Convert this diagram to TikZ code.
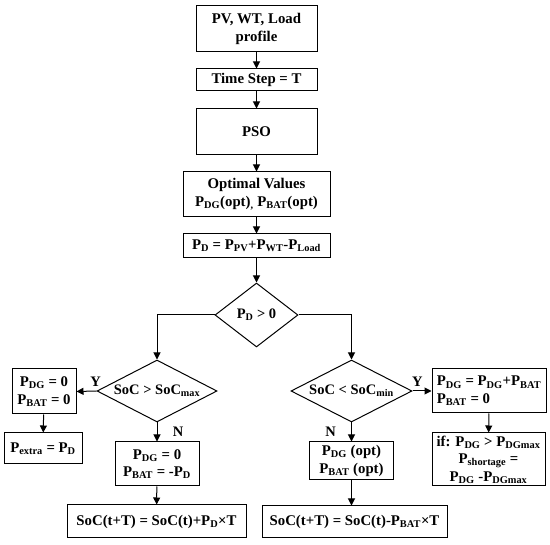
\documentclass[tikz,border=0pt]{standalone}
\usepackage{fontspec}
\setmainfont{Liberation Serif}
\usepackage{tikz}
\usetikzlibrary{arrows.meta,shapes.geometric}
\newcommand{\Pw}[1]{P\textsubscript{#1}}
\tikzset{
  blk/.style={draw, line width=1pt, align=center, inner sep=1pt,
    font=\bfseries\fontsize{14.8}{17.5}\selectfont},
  dec/.style={diamond, draw, line width=1pt, aspect=1.9, inner sep=0pt,
    font=\bfseries\fontsize{14.5}{17}\selectfont},
  flow/.style={-{Triangle[length=7pt,width=7pt]}, line width=1pt},
  yn/.style={font=\bfseries\fontsize{14.5}{14.5}\selectfont, inner sep=1pt}
}

\begin{document}
\begin{tikzpicture}[x=1pt, y=-1pt]
  \useasboundingbox (0,0) rectangle (550,545);
  % main column
  \node[blk, minimum width=121, minimum height=46] (prof) at (256.5,29) {PV, WT, Load\\profile};
  \node[blk, minimum width=121, minimum height=22] (tstep) at (256.5,80) {Time Step = T};
  \node[blk, minimum width=121, minimum height=46] (pso) at (256.5,132) {PSO};
  \node[blk, minimum width=147, minimum height=45] (optv) at (256.5,194.5)
    {Optimal Values\\\Pw{DG}(opt)\textsubscript{,} \Pw{BAT}(opt)};
  \node[blk, minimum width=147, minimum height=24] (pd) at (256.5,246)
    {\Pw{D} = \Pw{PV}+\Pw{WT}-\Pw{Load}};
  \node[dec, minimum width=83, minimum height=64] (dpd) at (256.5,315) {\Pw{D} > 0};
  % left branch
  \node[dec, minimum width=120, minimum height=62] (dmax) at (157,391) {SoC > SoC\textsubscript{max}};
  \node[blk, minimum width=64, minimum height=45] (zero) at (44,391.5) {\Pw{DG} = 0\\\Pw{BAT} = 0};
  \node[blk, minimum width=78, minimum height=31] (extra) at (43,448.5) {\Pw{extra} = \Pw{D}};
  \node[blk, minimum width=84, minimum height=44] (neg) at (157,464) {\Pw{DG} = 0\\\Pw{BAT} = -\Pw{D}};
  \node[blk, minimum width=179, minimum height=33] (socL) at (156.5,521.5) {SoC(t+T) = SoC(t)+\Pw{D}×T};
  % right branch
  \node[dec, minimum width=121, minimum height=62] (dmin) at (351.5,391) {SoC < SoC\textsubscript{min}};
  \node[blk, minimum width=114, minimum height=44, align=left] (shift) at (489,391)
    {\Pw{DG} = \Pw{DG}+\Pw{BAT}\\\Pw{BAT} = 0};
  \node[blk, minimum width=113, minimum height=53] (ifbox) at (488.5,459.5)
    {if: \Pw{DG} > \Pw{DGmax}\\\Pw{shortage} =\\\Pw{DG} -\Pw{DGmax}};
  \node[blk, minimum width=84, minimum height=38] (opt) at (351.5,461) {\Pw{DG} (opt)\\\Pw{BAT} (opt)};
  \node[blk, minimum width=185, minimum height=32] (socR) at (354.5,522) {SoC(t+T) = SoC(t)-\Pw{BAT}×T};
  % connectors
  \draw[flow] (prof) -- (tstep);
  \draw[flow] (tstep) -- (pso);
  \draw[flow] (pso) -- (optv);
  \draw[flow] (optv) -- (pd);
  \draw[flow] (pd) -- (dpd);
  \draw[flow] (dpd.west) -| (dmax.north);
  \draw[flow] (dpd.east) -| (dmin.north);
  \draw[flow] (dmax.west) -- node[yn, above, pos=0.05, yshift=3pt]{Y} (zero.east);
  \draw[flow] (zero) -- (extra);
  \draw[flow] (dmax.south) -- node[yn, pos=0.5, xshift=21pt]{N} (neg.north);
  \draw[flow] (neg) -- (socL);
  \draw[flow] (dmin.east) -- node[yn, above, pos=0.25, yshift=3pt]{Y} (shift.west);
  \draw[flow] (shift) -- (ifbox);
  \draw[flow] (dmin.south) -- node[yn, pos=0.5, xshift=-21pt]{N} (opt.north);
  \draw[flow] (opt.south) -- (opt.south |- socR.north);
\end{tikzpicture}
\end{document}
